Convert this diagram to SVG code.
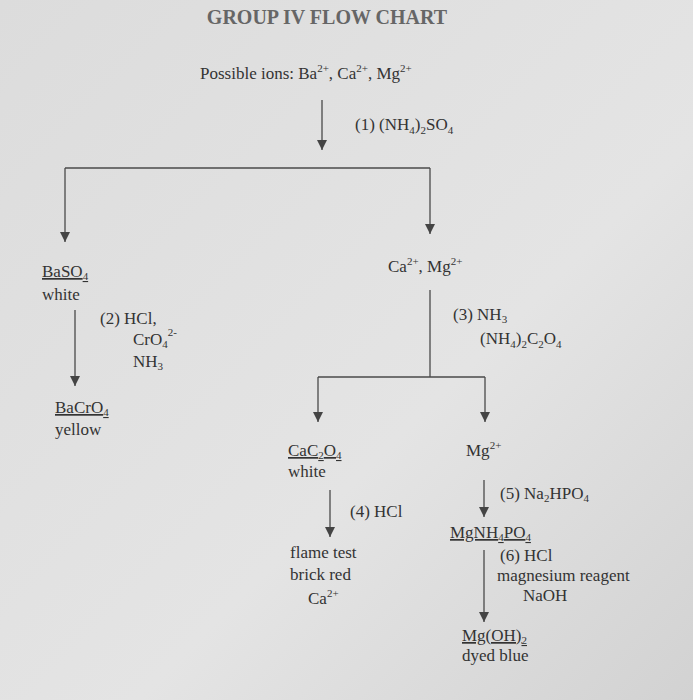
<svg xmlns="http://www.w3.org/2000/svg" width="693" height="700" viewBox="0 0 693 700">
<defs>
<linearGradient id="bg" x1="0" y1="0" x2="1" y2="1"><stop offset="0" stop-color="#dcdcdc"/><stop offset="0.6" stop-color="#e4e4e4"/><stop offset="1" stop-color="#d2d2d2"/></linearGradient>
<marker id="ah" markerWidth="11" markerHeight="11" refX="10" refY="5" orient="auto" markerUnits="userSpaceOnUse"><path d="M0,0 L10,5 L0,10 Z" fill="#444"/></marker>
</defs>
<style>
text{font-family:"Liberation Serif",serif;font-size:17px;fill:#333}
.t{font-weight:bold;font-size:20px;fill:#666}
.u{text-decoration:underline}
line{stroke:#4a4a4a;stroke-width:1.3;fill:none}
.a{marker-end:url(#ah)}
</style>
<rect width="693" height="700" fill="url(#bg)"/>
<text class="t" x="327" y="24" text-anchor="middle">GROUP IV FLOW CHART</text>
<text x="200" y="79">Possible ions: Ba<tspan dy="-7" font-size="11">2+</tspan><tspan dy="7">, Ca</tspan><tspan dy="-7" font-size="11">2+</tspan><tspan dy="7">, Mg</tspan><tspan dy="-7" font-size="11">2+</tspan></text>
<g id="connectors">
<line class="a" x1="322" y1="100" x2="322" y2="150"/>
<line x1="65" y1="168" x2="430" y2="168"/>
<line class="a" x1="65" y1="168" x2="65" y2="242"/>
<line class="a" x1="430" y1="168" x2="430" y2="234"/>
<line class="a" x1="75" y1="310" x2="75" y2="386"/>
<line x1="430" y1="290" x2="430" y2="377"/>
<line x1="318" y1="377" x2="485" y2="377"/>
<line class="a" x1="318" y1="377" x2="318" y2="422"/>
<line class="a" x1="485" y1="377" x2="485" y2="422"/>
<line class="a" x1="330" y1="490" x2="330" y2="537"/>
<line class="a" x1="484" y1="480" x2="484" y2="517"/>
<line class="a" x1="484" y1="550" x2="484" y2="622"/>
</g>
<g id="step1"><text x="355" y="130">(1) (NH<tspan dy="4" font-size="11">4</tspan><tspan dy="-4">)</tspan><tspan dy="4" font-size="11">2</tspan><tspan dy="-4">SO</tspan><tspan dy="4" font-size="11">4</tspan></text></g>
<g id="baso4"><text class="u" x="42" y="277">BaSO<tspan dy="3" font-size="11">4</tspan></text><text x="42" y="300">white</text></g>
<g id="camg"><text x="388" y="272">Ca<tspan dy="-7" font-size="11">2+</tspan><tspan dy="7">, Mg</tspan><tspan dy="-7" font-size="11">2+</tspan></text></g>
<g id="step2"><text x="100" y="324">(2) HCl,</text><text x="133" y="345">CrO<tspan dy="3" font-size="11">4</tspan><tspan dy="-12" font-size="11">2-</tspan></text><text x="133" y="367">NH<tspan dy="3" font-size="11">3</tspan></text></g>
<g id="bacro4"><text class="u" x="55" y="413">BaCrO<tspan dy="3" font-size="11">4</tspan></text><text x="55" y="435">yellow</text></g>
<g id="step3"><text x="453" y="320">(3) NH<tspan dy="3" font-size="11">3</tspan></text><text x="480" y="344">(NH<tspan dy="4" font-size="11">4</tspan><tspan dy="-4">)</tspan><tspan dy="4" font-size="11">2</tspan><tspan dy="-4">C</tspan><tspan dy="4" font-size="11">2</tspan><tspan dy="-4">O</tspan><tspan dy="4" font-size="11">4</tspan></text></g>
<g id="cac2o4"><text class="u" x="288" y="456">CaC<tspan dy="3" font-size="11">2</tspan><tspan dy="-3">O</tspan><tspan dy="3" font-size="11">4</tspan></text><text x="288" y="477">white</text></g>
<g id="mg"><text x="466" y="456">Mg<tspan dy="-7" font-size="11">2+</tspan></text></g>
<g id="step4"><text x="350" y="517">(4) HCl</text></g>
<g id="step5"><text x="500" y="499">(5) Na<tspan dy="3" font-size="11">2</tspan><tspan dy="-3">HPO</tspan><tspan dy="3" font-size="11">4</tspan></text></g>
<g id="mgnh4po4"><text class="u" x="450" y="538">MgNH<tspan dy="3" font-size="11">4</tspan><tspan dy="-3">PO</tspan><tspan dy="3" font-size="11">4</tspan></text></g>
<g id="flame"><text x="290" y="558">flame test</text><text x="290" y="580">brick red</text><text x="308" y="604">Ca<tspan dy="-7" font-size="11">2+</tspan></text></g>
<g id="step6"><text x="500" y="561">(6) HCl</text><text x="497" y="581">magnesium reagent</text><text x="523" y="601">NaOH</text></g>
<g id="mgoh2"><text class="u" x="462" y="641">Mg(OH)<tspan dy="3" font-size="11">2</tspan></text><text x="462" y="661">dyed blue</text></g>
</svg>
